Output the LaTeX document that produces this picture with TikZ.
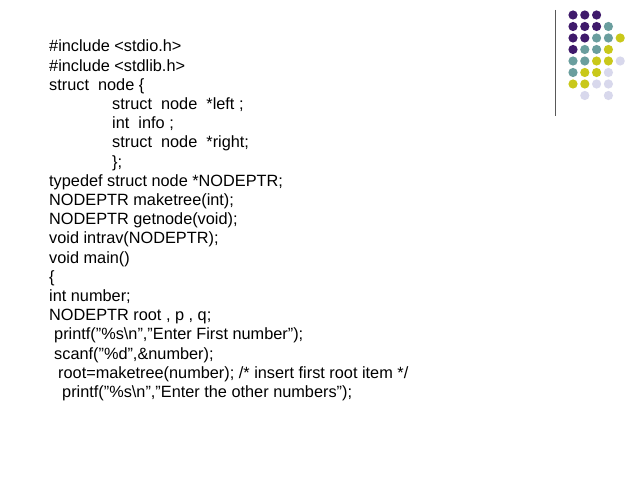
\documentclass[tikz,border=0pt]{standalone}
\usepackage{fontspec}
\setmainfont{Liberation Sans}
\definecolor{cp}{HTML}{3F1A6B}
\definecolor{ct}{HTML}{6A9E9E}
\definecolor{cy}{HTML}{C9C81A}
\definecolor{cl}{HTML}{D8D8EC}
\newcommand{\q}{\symbol{34}}
\begin{document}
\begin{tikzpicture}[x=1pt,y=-1pt,
  code/.style={anchor=base west,inner sep=0pt,font=\fontsize{16.3}{18}\selectfont}]
\useasboundingbox (0,0) rectangle (638,478);
\fill[white] (0,0) rectangle (638,478);
\draw[gray!70!black,line width=0.8pt] (555,10) -- (555,116);
\foreach \row/\cols in {0/{P,P,P},1/{P,P,P,T},2/{P,P,T,T,Y},3/{P,T,T,Y},4/{T,T,Y,Y,L},5/{T,Y,Y,L},6/{Y,Y,L,L},7/{N,L,N,L}}{
  \foreach \c [count=\i from 0] in \cols {
    \if\c N\else
      \def\col{cp}%
      \if\c T\def\col{ct}\fi
      \if\c Y\def\col{cy}\fi
      \if\c L\def\col{cl}\fi
      \fill[\col] (573+11.8*\i,15+11.5*\row) circle (4.6);
    \fi
  }
}
\def\L{19.2}
\foreach \t/\xx [count=\n from 0] in {
 {\#include <stdio.h>}/49,
 {\#include <stdlib.h>}/49,
 {struct\ \ node \{}/49,
 {struct\ \ node\ \ *left ;}/112,
 {int\ \ info ;}/112,
 {struct\ \ node\ \ *right;}/112,
 {\};}/112,
 {typedef struct node *NODEPTR;}/49,
 {NODEPTR maketree(int);}/49,
 {NODEPTR getnode(void);}/49,
 {void intrav(NODEPTR);}/49,
 {void main()}/49,
 {\{}/49,
 {int number;}/49,
 {NODEPTR root , p , q;}/49,
 {printf(\q\%s\textbackslash n\q,\q Enter First number\q);}/54,
 {scanf(\q\%d\q,\&number);}/54,
 {root=maketree(number); /* insert first root item */}/58,
 {printf(\q\%s\textbackslash n\q,\q Enter the other numbers\q);}/62}
 \node[code] (l\n) at (\xx,52+\L*\n) {\t};
\end{tikzpicture}
\end{document}
